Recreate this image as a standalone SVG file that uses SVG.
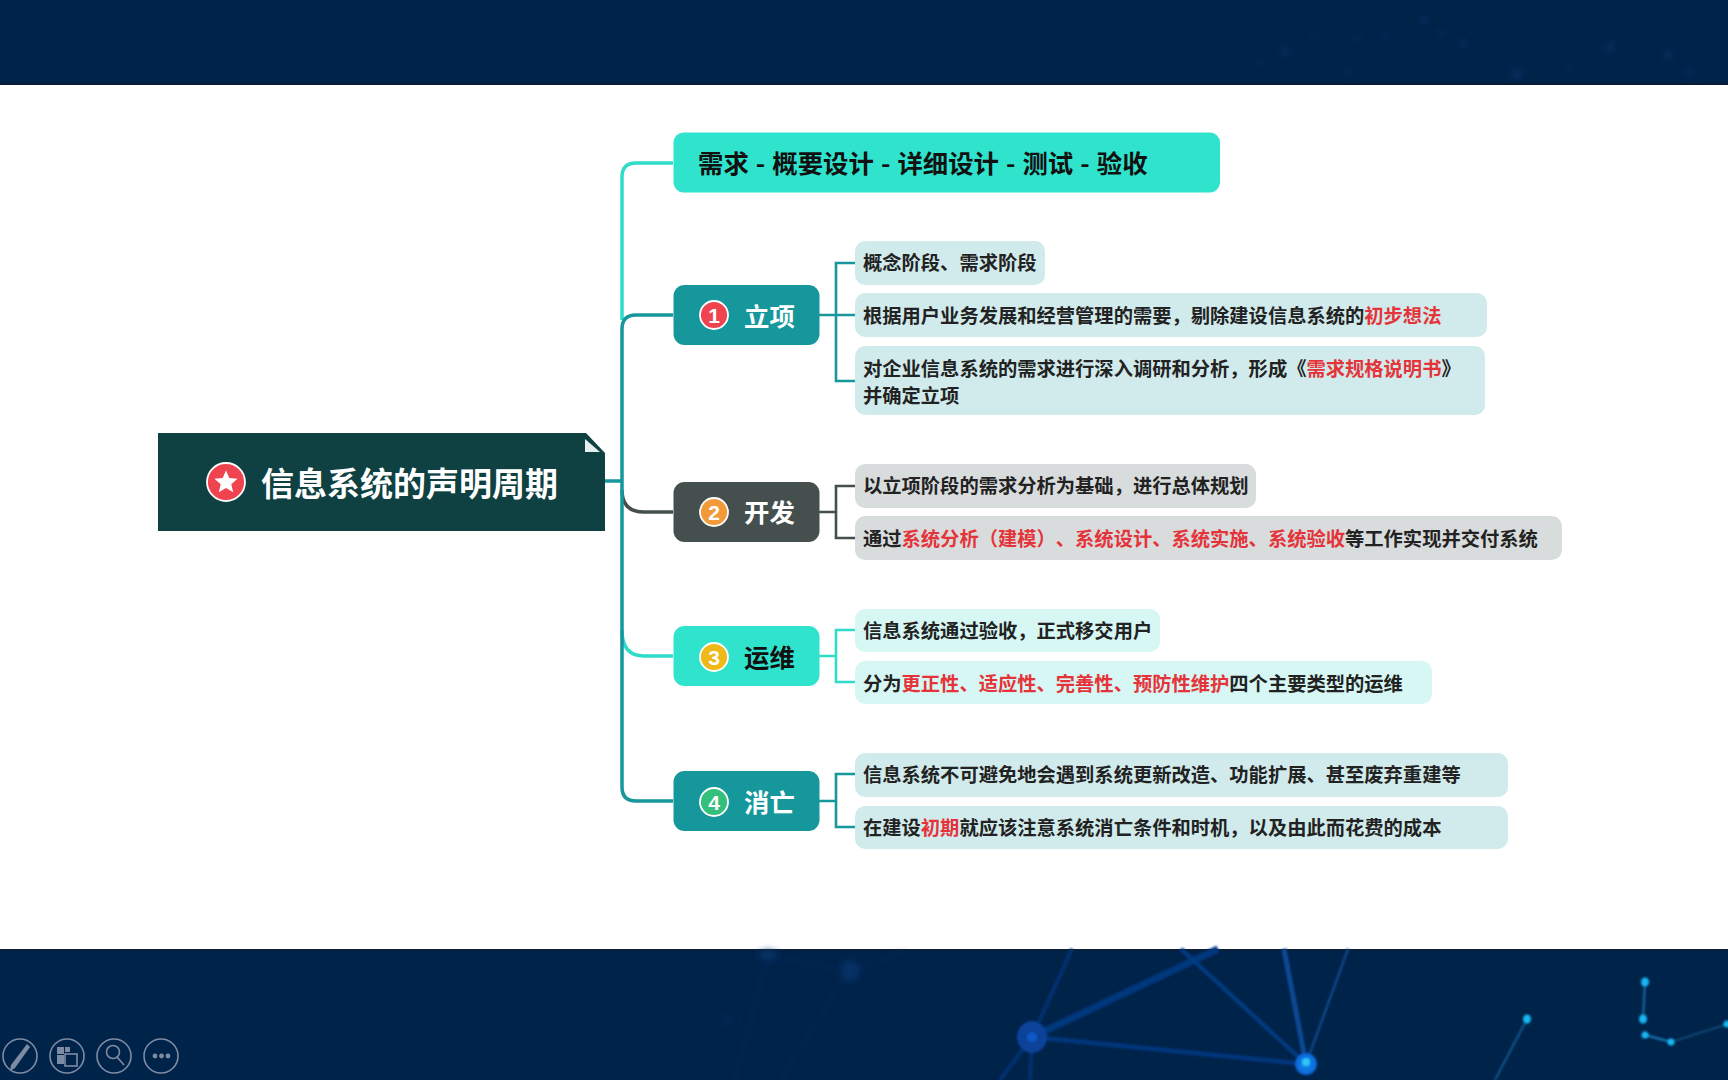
<svg xmlns="http://www.w3.org/2000/svg" width="1728" height="1080" viewBox="0 0 1728 1080">
<defs>
<style>
text{font-family:"Microsoft YaHei","Noto Sans CJK SC","Noto Sans",sans-serif;font-weight:700;text-spacing-trim:space-all;font-kerning:none}
.leaf{font-size:19.3px;fill:#222}
.hl{fill:#e4343a}
.br{font-size:25.4px}
.num{font-size:21px;fill:#fff;text-anchor:middle;font-family:"Liberation Sans",sans-serif}
.c{fill:none;stroke-width:3.5}
.l{fill:none;stroke-width:2.6}
.icon{fill:none;stroke:#7d8ba3;stroke-width:1.6}
.ifill{fill:#7d8ba3}
</style>
<radialGradient id="glow"><stop offset="0" stop-color="#0b8ff0"/><stop offset="1" stop-color="#0a63d8"/></radialGradient>
<filter id="b1"><feGaussianBlur stdDeviation="1"/></filter>
<filter id="b3"><feGaussianBlur stdDeviation="3"/></filter>
</defs>
<rect width="1728" height="1080" fill="#fff"/>
<g id="band-top">
<rect width="1728" height="85" fill="#00234a"/>
<g fill="#0a3a6e" filter="url(#b3)" opacity=".45">
<circle cx="1285" cy="52" r="5"/><circle cx="1315" cy="36" r="3"/><circle cx="1357" cy="38" r="3"/><circle cx="1385" cy="37" r="3"/><circle cx="1424" cy="20" r="4"/><circle cx="1441" cy="33" r="3"/><circle cx="1463" cy="43" r="4"/><circle cx="1517" cy="74" r="6"/><circle cx="1610" cy="47" r="5"/><circle cx="1668" cy="55" r="5"/><circle cx="1690" cy="72" r="4"/><circle cx="1570" cy="68" r="3"/><circle cx="1350" cy="72" r="3"/><circle cx="1260" cy="62" r="3"/>
</g>
<rect y="83" width="1728" height="2" fill="#0b1a35"/>
</g>
<g id="band-bottom">
<rect y="949" width="1728" height="131" fill="#00234a"/>
<rect y="949" width="1728" height="2" fill="#0b2038"/>
<g filter="url(#b3)" fill="none" stroke="#07356b" opacity=".35" stroke-width="2">
<path d="M768 952L735 1080M848 972L780 1080M848 972L905 951M768 955L848 972"/>
</g>
<g fill="#073a78" filter="url(#b3)" opacity=".55"><ellipse cx="850" cy="971" rx="10" ry="11"/><ellipse cx="768" cy="955" rx="10" ry="6"/><circle cx="727" cy="1020" r="5" opacity=".5"/></g>
<g fill="none" stroke-linecap="butt" filter="url(#b1)">
<path d="M1032 1037L1218 949" stroke="#05377e" stroke-width="7"/>
<path d="M1032 1037L1072 949" stroke="#05326f" stroke-width="4"/>
<path d="M1032 1037L1306 1064" stroke="#05377e" stroke-width="4.5"/>
<path d="M1181 949L1306 1064" stroke="#053c84" stroke-width="4"/>
<path d="M1284 949L1306 1064" stroke="#0a4a94" stroke-width="5"/>
<path d="M1348 949L1306 1064" stroke="#0e4886" stroke-width="2.5"/>
<path d="M1032 1037L1000 1080M1032 1037L1030 1080" stroke="#05326f" stroke-width="4"/>
<path d="M1527 1019L1495 1080" stroke="#1a6aa8" stroke-width="1.6"/>
<path d="M1645 982L1643 1019" stroke="#1a80c0" stroke-width="1.6"/>
<path d="M1645 1035L1671 1042" stroke="#1a80c0" stroke-width="2"/>
<path d="M1671 1042L1728 1024" stroke="#14527f" stroke-width="1.6"/>
</g>
<ellipse cx="1032" cy="1037" rx="15" ry="16" fill="#08429a" filter="url(#b1)"/>
<circle cx="1032" cy="1037" r="5" fill="#0a58c8" filter="url(#b1)"/>
<circle cx="1306" cy="1064" r="11" fill="url(#glow)" filter="url(#b1)"/>
<circle cx="1306" cy="1062" r="4" fill="#30c8f8" filter="url(#b1)"/>
<g fill="#18b8f4" filter="url(#b1)"><ellipse cx="1527" cy="1019" rx="4" ry="4.5"/><ellipse cx="1645" cy="982" rx="4" ry="4.5"/><ellipse cx="1643" cy="1019" rx="4" ry="4.5"/><circle cx="1645" cy="1035" r="3.5"/><circle cx="1671" cy="1042" r="3.5"/><circle cx="1727" cy="1024" r="3.5"/></g>
</g>
<g id="toolbar">
<ellipse class="icon" cx="20" cy="1056" rx="17" ry="17"/>
<path class="ifill" d="M27 1044L30 1047L15 1068L10 1071L11 1065Z"/>
<ellipse class="icon" cx="67" cy="1056" rx="17" ry="17"/>
<rect class="ifill" x="57" y="1047" width="7" height="7"/><rect class="ifill" x="65" y="1047" width="5" height="5"/><rect class="ifill" x="57" y="1055" width="7" height="9"/><rect class="icon" x="65" y="1054" width="12" height="12"/>
<ellipse class="icon" cx="114" cy="1056" rx="17" ry="17"/>
<circle class="icon" cx="113" cy="1052" r="6.5" stroke-width="2.2"/><path class="icon" d="M117 1057L124 1065" stroke-width="3"/>
<ellipse class="icon" cx="161" cy="1056" rx="17" ry="17"/>
<circle class="ifill" cx="155" cy="1056" r="2.4"/><circle class="ifill" cx="161.500" cy="1056" r="2.4"/><circle class="ifill" cx="168" cy="1056" r="2.4"/>
</g>
<g id="connectors">
<path class="c" stroke="#2fdcc8" d="M673 163H636Q622 163 622 177V320"/>
<path class="c" stroke="#2fdcc8" d="M622 630Q622 656 644 656H673"/>
<path class="c" stroke="#45504e" d="M622 490Q622 512 644 512H673"/>
<path class="c" stroke="#16979c" d="M673 315H636Q622 315 622 329V787Q622 801 636 801H673"/>
<path class="c" stroke="#16979c" d="M604 481H622"/>
<path class="l" stroke="#16979c" d="M819 315H855M855 263H836V381H855"/>
<path class="l" stroke="#45504e" d="M819 512H836M855 486H836V538H855"/>
<path class="l" stroke="#2fdcc8" d="M819 656H836M855 630H836V682H855"/>
<path class="l" stroke="#16979c" d="M819 801H836M855 774H836V827H855"/>
</g>
<g id="root">
<path d="M158 433H586L605 453V531H158Z" fill="#104142"/>
<path d="M585 439V452H600Z" fill="#e6efef"/>
<circle cx="226" cy="482" r="19" fill="#ef4450" stroke="#fff" stroke-width="1.800"/>
<path d="M226 470.500l3.300 7.500 8.200 .8-6.200 5.400 1.900 8-7.200-4.200-7.200 4.200 1.900-8-6.200-5.400 8.200-.8Z" fill="#fff"/>
<text x="261" y="496" font-size="33" fill="#fff">信息系统的声明周期</text>
</g>
<g id="summary">
<rect x="673.500" y="132.500" width="546.500" height="60" rx="10" fill="#30e3cc"/>
<text x="698" y="173" font-size="25.400" fill="#111" word-spacing="1.300">需求 - 概要设计 - 详细设计 - 测试 - 验收</text>
</g>
<g id="branch1">
<rect x="673.500" y="285" width="146" height="60" rx="11" fill="#16979c"/>
<circle cx="714" cy="315" r="14" fill="#ef4450" stroke="#fff" stroke-width="1.800"/>
<text class="num" x="714" y="322.500">1</text>
<text class="br" x="744" y="326" fill="#fff">立项</text>
</g>
<g id="branch2">
<rect x="673.500" y="482" width="146" height="60" rx="11" fill="#45504e"/>
<circle cx="714" cy="512" r="14" fill="#f29a3a" stroke="#fff" stroke-width="1.800"/>
<text class="num" x="714" y="519.500">2</text>
<text class="br" x="744" y="522" fill="#fff">开发</text>
</g>
<g id="branch3">
<rect x="673.500" y="626" width="146" height="60" rx="11" fill="#30e3cc"/>
<circle cx="714" cy="657" r="14" fill="#efba18" stroke="#fff" stroke-width="1.800"/>
<text class="num" x="714" y="664.500">3</text>
<text class="br" x="744" y="667" fill="#111">运维</text>
</g>
<g id="branch4">
<rect x="673.500" y="771" width="146" height="60" rx="11" fill="#16979c"/>
<circle cx="714" cy="802" r="14" fill="#35bf7c" stroke="#fff" stroke-width="1.800"/>
<text class="num" x="714" y="809.500">4</text>
<text class="br" x="744" y="812" fill="#fff">消亡</text>
</g>
<g id="leaf1a"><rect x="855" y="241" width="190" height="44" rx="10" fill="#d1ebec"/><text class="leaf" x="863" y="270">概念阶段、需求阶段</text></g>
<g id="leaf1b"><rect x="855" y="293" width="632" height="44" rx="10" fill="#d1ebec"/><text class="leaf" x="863" y="323">根据用户业务发展和经营管理的需要，剔除建设信息系统的<tspan class="hl">初步想法</tspan></text></g>
<g id="leaf1c"><rect x="855" y="346" width="630" height="69" rx="10" fill="#d1ebec"/><text class="leaf" x="863" y="375.500">对企业信息系统的需求进行深入调研和分析，形成《<tspan class="hl">需求规格说明书</tspan>》</text><text class="leaf" x="863" y="402.500">并确定立项</text></g>
<g id="leaf2a"><rect x="855" y="464" width="401" height="44" rx="10" fill="#d9dcdc"/><text class="leaf" x="863" y="493">以立项阶段的需求分析为基础，进行总体规划</text></g>
<g id="leaf2b"><rect x="855" y="516" width="707" height="44" rx="10" fill="#d9dcdc"/><text class="leaf" x="863" y="546">通过<tspan class="hl">系统分析（建模）、系统设计、系统实施、系统验收</tspan>等工作实现并交付系统</text></g>
<g id="leaf3a"><rect x="855" y="609" width="305" height="43" rx="10" fill="#d6f7f3"/><text class="leaf" x="863" y="638">信息系统通过验收，正式移交用户</text></g>
<g id="leaf3b"><rect x="855" y="661" width="577" height="43" rx="10" fill="#d6f7f3"/><text class="leaf" x="863" y="690.500">分为<tspan class="hl">更正性、适应性、完善性、预防性维护</tspan>四个主要类型的运维</text></g>
<g id="leaf4a"><rect x="855" y="753" width="653" height="44" rx="10" fill="#d1ebec"/><text class="leaf" x="863" y="782">信息系统不可避免地会遇到系统更新改造、功能扩展、甚至废弃重建等</text></g>
<g id="leaf4b"><rect x="855" y="806" width="653" height="43" rx="10" fill="#d1ebec"/><text class="leaf" x="863" y="835">在建设<tspan class="hl">初期</tspan>就应该注意系统消亡条件和时机，以及由此而花费的成本</text></g>
</svg>
